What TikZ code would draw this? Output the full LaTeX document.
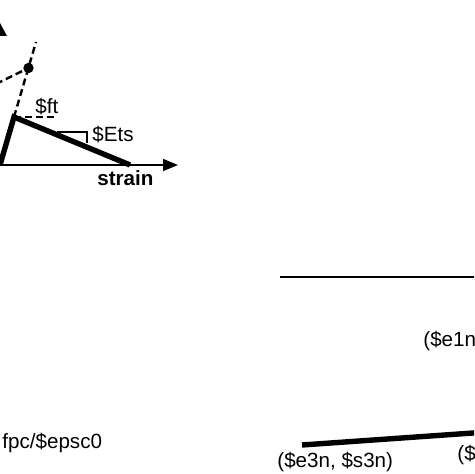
\documentclass[tikz,border=0pt]{standalone}
\usepackage{fontspec}
\setmainfont{Liberation Sans}
\usetikzlibrary{arrows.meta}

\begin{document}
\begin{tikzpicture}[
  x=0.5pt, y=-0.5pt,
  lbl/.style={anchor=west, inner sep=0pt, font=\fontsize{10.3}{12}\selectfont},
  curve/.style={line width=2.7pt},
  guide/.style={line width=1.2pt, dash pattern=on 3.5pt off 2pt},
  axisln/.style={line width=0.8pt, -{Triangle[length=7.5pt, width=6pt]}},
  thinln/.style={line width=0.6pt}
]
  \useasboundingbox (0,0) rectangle (474,474);
  \clip (0,0) rectangle (474,474);

  % stress-strain sketch
  \coordinate (orig)  at (0,165);
  \coordinate (peak)  at (14,117);
  \coordinate (resid) at (130,165);
  \coordinate (axend) at (178,165);
  \coordinate (gtop)  at (36,42);
  \coordinate (cleft) at (-4,84);
  \coordinate (ftend) at (57,117);
  \coordinate (sa)    at (57,132);
  \coordinate (sb)    at (87,132);
  \coordinate (sc)    at (87,143);
  \coordinate (dot)   at (28.5,68);

  \fill (0,23) -- (7,36) -- (0,36) -- cycle;
  \draw[axisln] (orig) -- (axend);
  \draw[guide] (peak) -- (gtop);
  \draw[guide] (cleft) -- (dot);
  \fill (dot) circle (2.6pt);
  \draw[guide] (peak) -- (ftend);
  \draw[thinln] (sa) -- (sb) -- (sc);
  \draw[curve, line join=miter] (orig) -- (peak) -- (resid);

  \node[lbl] (ft)     at (35,107) {\$ft};
  \node[lbl] (ets)    at (92,135) {\$Ets};
  \node[lbl, font=\fontsize{10.3}{12}\selectfont\bfseries] (strain) at (97,178) {strain};
  \node[lbl] (fpc)    at (2,443) {fpc/\$epsc0};

  % lower right part
  \coordinate (hl) at (280,277);
  \coordinate (hr) at (480,277);
  \draw[line width=0.75pt] (hl) -- (hr);

  \coordinate (p3) at (302,445);
  \coordinate (p2) at (480,432.5);
  \draw[curve] (p3) -- (p2);

  \node[lbl] (e1n) at (423,341) {(\$e1n};
  \node[lbl] (e3n) at (277,462) {(\$e3n, \$s3n)};
  \node[lbl] (e2n) at (457,455) {(\$};
\end{tikzpicture}
\end{document}
